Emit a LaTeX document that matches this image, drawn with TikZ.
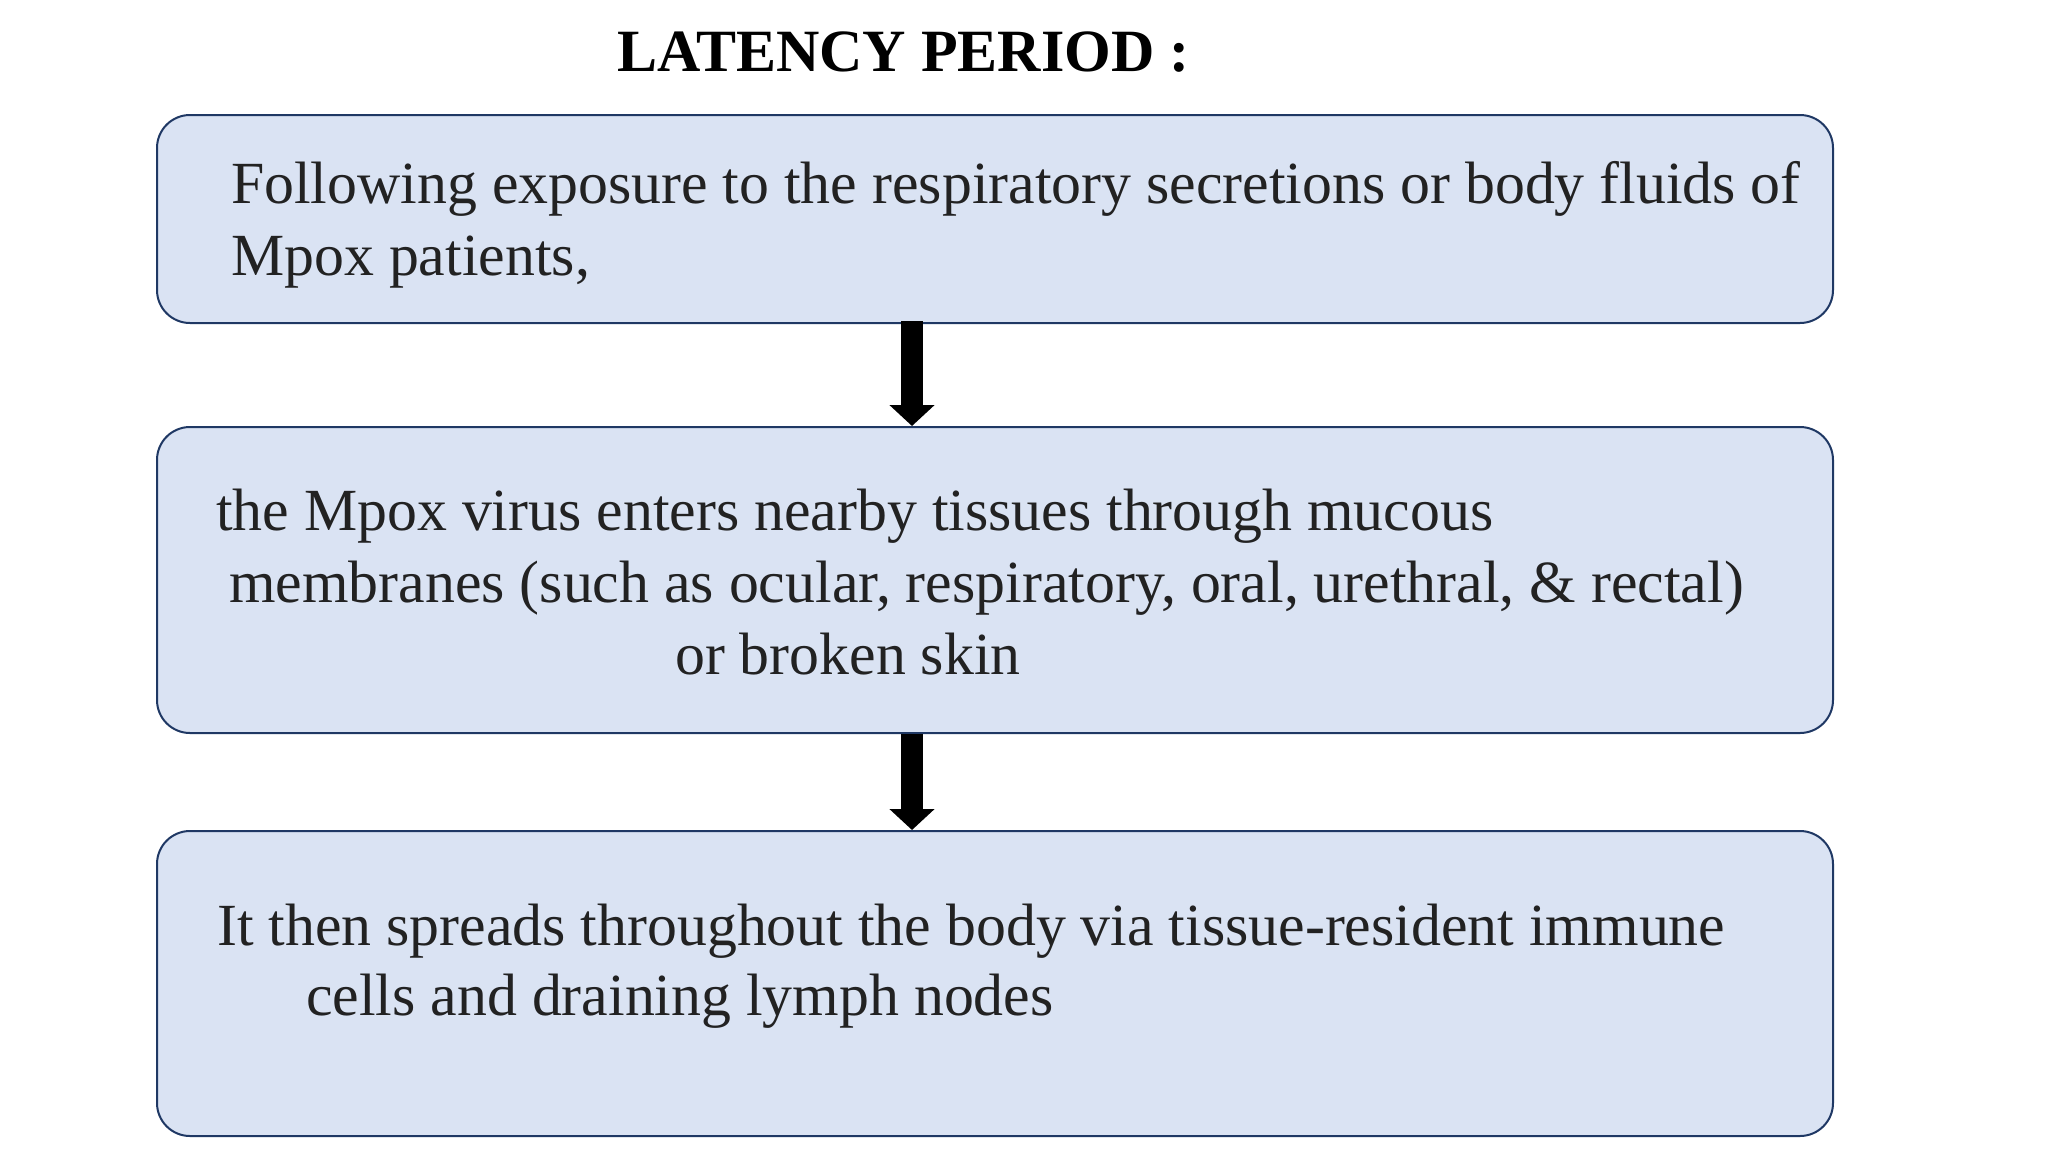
\documentclass[tikz,border=0pt]{standalone}
\usepackage{fontspec}
\setmainfont{Liberation Serif}
\usetikzlibrary{arrows.meta}
\definecolor{boxfill}{HTML}{DAE3F3}
\definecolor{boxline}{HTML}{1F3864}
\definecolor{txt}{HTML}{222222}
\begin{document}
\begin{tikzpicture}[x=1pt,y=-1pt,
  stage/.style={draw=boxline,line width=2pt,fill=boxfill,rounded corners=33pt,inner sep=0pt},
  body/.style={anchor=base west,inner sep=0pt,text=txt,font=\fontsize{59.8}{70}\selectfont},
  flow/.style={line width=22pt,-{Triangle[width=44pt,length=21pt]},black}]
\fill[white] (0,0) rectangle (2048,1152);
\useasboundingbox (0,0) rectangle (2048,1152);
\node[anchor=base west,inner sep=0pt,font=\fontsize{60}{72}\selectfont\bfseries] (title) at (617,71) {LATENCY PERIOD :};
\node[stage,minimum width=1676pt,minimum height=208pt] (b1) at (995,219) {};
\node[stage,minimum width=1676pt,minimum height=306pt] (b2) at (995,580) {};
\node[stage,minimum width=1676pt,minimum height=305pt] (b3) at (995,983.5) {};
\node[body] (t11) at (231,203) {Following exposure to the respiratory secretions or body fluids of};
\node[body] (t12) at (231,275) {Mpox patients,};
\node[body] (t21) at (216,530) {the Mpox virus enters nearby tissues through mucous};
\node[body] (t22) at (229,602) {membranes (such as ocular, respiratory, oral, urethral, \& rectal)};
\node[body] (t23) at (675,674) {or broken skin};
\node[body] (t31) at (217,945) {It then spreads throughout the body via tissue-resident immune};
\node[body] (t32) at (306,1015) {cells and draining lymph nodes};
\draw[flow] ([xshift=-83pt,yshift=3pt]b1.south) -- ([xshift=-83pt]b2.north);
\draw[flow] ([xshift=-83pt]b2.south) -- ([xshift=-83pt]b3.north);
\end{tikzpicture}
\end{document}
